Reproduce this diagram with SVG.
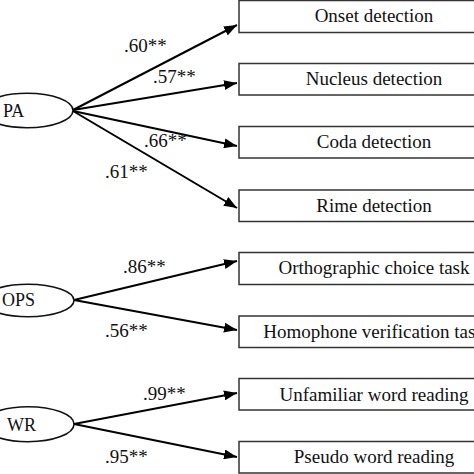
<svg xmlns="http://www.w3.org/2000/svg" width="474" height="474" viewBox="0 0 474 474">
<style>
text{font-family:"Liberation Serif","Times New Roman",serif;fill:#111}
.box rect{fill:#fff;stroke:#333;stroke-width:1.5}
.box text{font-size:19px;text-anchor:middle}
.lat ellipse{fill:#fff;stroke:#111;stroke-width:1.6}
.lat text{font-size:18px}
.edges line{stroke:#000;stroke-width:2;marker-end:url(#ah)}
.lbl{font-size:19px}
</style>
<defs>
<marker id="ah" markerUnits="userSpaceOnUse" markerWidth="13" markerHeight="10" refX="13" refY="5" orient="auto">
<path d="M0,0 L13,5 L0,10 z" fill="#000"/>
</marker>
</defs>
<rect width="474" height="474" fill="#fff"/>
<g id="n-onset" class="box"><rect x="239" y="0.5" width="280" height="32"/><text x="374" y="22">Onset detection</text></g>
<g id="n-nucleus" class="box"><rect x="239" y="63.5" width="280" height="31.5"/><text x="374" y="85">Nucleus detection</text></g>
<g id="n-coda" class="box"><rect x="239" y="126.5" width="280" height="31.5"/><text x="374" y="148">Coda detection</text></g>
<g id="n-rime" class="box"><rect x="239" y="190" width="280" height="31.5"/><text x="374" y="211.5">Rime detection</text></g>
<g id="n-ortho" class="box"><rect x="239" y="252.5" width="280" height="32"/><text x="374" y="274">Orthographic choice task</text></g>
<g id="n-homo" class="box"><rect x="239" y="316" width="280" height="31.5"/><text x="374" y="337.5">Homophone verification task</text></g>
<g id="n-unfam" class="box"><rect x="239" y="378.5" width="280" height="31.5"/><text x="374" y="400.5">Unfamiliar word reading</text></g>
<g id="n-pseudo" class="box"><rect x="239" y="441.5" width="280" height="31.5"/><text x="374" y="463">Pseudo word reading</text></g>
<g id="n-pa" class="lat"><ellipse cx="27" cy="110.5" rx="46" ry="17.2"/><text x="3" y="116.5">PA</text></g>
<g id="n-ops" class="lat"><ellipse cx="28" cy="300.5" rx="46" ry="16.2"/><text x="2" y="306">OPS</text></g>
<g id="n-wr" class="lat"><ellipse cx="28" cy="424.2" rx="46" ry="17.5"/><text x="7" y="431">WR</text></g>
<g id="connectors">
<g class="edges">
<line x1="73" y1="110" x2="237" y2="25"/>
<line x1="73" y1="110" x2="237" y2="83"/>
<line x1="73" y1="111" x2="237" y2="146"/>
<line x1="73" y1="111" x2="237" y2="208"/>
<line x1="74" y1="300" x2="237" y2="261"/>
<line x1="74" y1="300" x2="237" y2="330"/>
<line x1="74" y1="424" x2="237" y2="393"/>
<line x1="74" y1="424" x2="237" y2="457"/>
</g>
<text class="lbl" x="124" y="52">.60**</text>
<text class="lbl" x="153" y="83">.57**</text>
<text class="lbl" x="144" y="147">.66**</text>
<text class="lbl" x="105" y="178">.61**</text>
<text class="lbl" x="123" y="273">.86**</text>
<text class="lbl" x="105" y="337">.56**</text>
<text class="lbl" x="143" y="400">.99**</text>
<text class="lbl" x="105" y="463">.95**</text>
</g>
</svg>
